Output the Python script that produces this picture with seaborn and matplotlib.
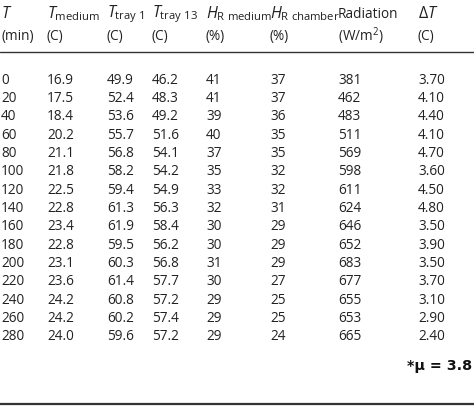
import matplotlib
matplotlib.use("Agg")
import matplotlib.pyplot as plt
import seaborn as sns

# ---- table data ----
time_min = [0, 20, 40, 60, 80, 100, 120, 140, 160, 180, 200, 220, 240, 260, 280]
t_medium = ["16.9", "17.5", "18.4", "20.2", "21.1", "21.8", "22.5", "22.8", "23.4", "22.8",
            "23.1", "23.6", "24.2", "24.2", "24.0"]
t_tray1 = ["49.9", "52.4", "53.6", "55.7", "56.8", "58.2", "59.4", "61.3", "61.9", "59.5",
           "60.3", "61.4", "60.8", "60.2", "59.6"]
t_tray13 = ["46.2", "48.3", "49.2", "51.6", "54.1", "54.2", "54.9", "56.3", "58.4", "56.2",
            "56.8", "57.7", "57.2", "57.4", "57.2"]
hr_medium = [41, 41, 39, 40, 37, 35, 33, 32, 30, 30, 31, 30, 29, 29, 29]
hr_chamber = [37, 37, 36, 35, 35, 32, 32, 31, 29, 29, 29, 27, 25, 25, 24]
radiation = [381, 462, 483, 511, 569, 598, 611, 624, 646, 652, 683, 677, 655, 653, 665]
delta_t = ["3.70", "4.10", "4.40", "4.10", "4.70", "3.60", "4.50", "4.80", "3.50", "3.90",
           "3.50", "3.70", "3.10", "2.90", "2.40"]

header_top = [r"$T$", r"$T_{\mathrm{medium}}$", r"$T_{\mathrm{tray\ 1}}$", r"$T_{\mathrm{tray\ 13}}$",
              r"$H_{\mathrm{R\ medium}}$", r"$H_{\mathrm{R\ chamber}}$", "Radiation", r"$\Delta T$"]
header_units = ["(min)", "(C)", "(C)", "(C)", "(%)", "(%)", r"(W/m$^2$)", "(C)"]

sns.set_theme(style="white")
plt.rcParams["font.family"] = ["Open Sans", "DejaVu Sans"]
plt.rcParams["mathtext.fontset"] = "custom"
plt.rcParams["mathtext.rm"] = "Open Sans"
plt.rcParams["mathtext.it"] = "Open Sans:italic"
plt.rcParams["mathtext.bf"] = "Open Sans:bold"

fig = plt.figure(figsize=(4.74, 4.12), dpi=100)
ax = fig.add_axes([0, 0, 1, 1])
ax.set_xlim(0, 474)
ax.set_ylim(412, 0)
ax.axis("off")

col_x = [1, 47, 107, 152, 206, 270, 338, 418]
fs = 9.8

for x, h, u in zip(col_x, header_top, header_units):
    hfs = fs * 1.18 if h.startswith("$") else fs
    ax.text(x, 14, h, fontsize=hfs, va="center", ha="left", color="#222222")
    ax.text(x, 36, u, fontsize=fs, va="center", ha="left", color="#222222")

ax.plot([0, 474], [52, 52], color="#333333", lw=1.0)

columns = [time_min, t_medium, t_tray1, t_tray13, hr_medium, hr_chamber, radiation, delta_t]
for i in range(len(time_min)):
    y = 80 + i * 18.35
    for x, col in zip(col_x, columns):
        ax.text(x, y, str(col[i]), fontsize=fs, va="center", ha="left", color="#222222")

ax.text(472, 366, "*\u03bc = 3.8", fontsize=fs * 1.05, fontweight="bold",
        va="center", ha="right", color="#111111", family=["DejaVu Sans"])
ax.plot([0, 474], [404, 404], color="#333333", lw=1.6)

fig.savefig("out.png", dpi=100)
